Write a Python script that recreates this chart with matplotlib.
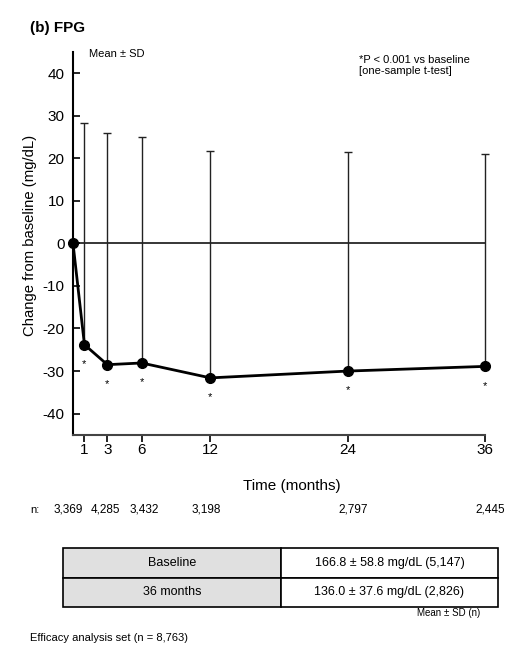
import matplotlib.pyplot as plt
import numpy as np

plt.rcParams['font.family'] = ['Liberation Sans', 'DejaVu Sans']
plt.rcParams['axes.unicode_minus'] = False

# Dati
months = [0, 1, 3, 6, 12, 24, 36]
mean_change = [0, -23.8, -28.5, -28.1, -31.6, -30.0, -28.9]
sd_change = [0, 52.0, 54.5, 53.1, 53.2, 51.5, 49.9]
n_labels = ['3,369', '4,285', '3,432', '3,198', '2,797', '2,445']
table_rows = [['Baseline', '166.8 ± 58.8 mg/dL (5,147)'],
              ['36 months', '136.0 ± 37.6 mg/dL (2,826)']]

fig = plt.figure(figsize=(5.29, 6.64), dpi=100)
ax = fig.add_axes([0.138, 0.345, 0.779, 0.577])

x = np.array(months)
y = np.array(mean_change)
sd = np.array(sd_change)

# Linea dello zero
ax.plot([0, 36], [0, 0], color='black', lw=1.1, zorder=1, clip_on=False)

# Barre di errore solo verso l'alto
eb = ax.errorbar(x[1:], y[1:], yerr=[np.zeros(len(x) - 1), sd[1:]], fmt='none',
                 ecolor='#222222', elinewidth=1.0, capsize=3, capthick=1.0, zorder=2)
for art in eb.lines[1] + eb.lines[2]:
    art.set_clip_on(False)

# Media
ax.plot(x, y, color='black', lw=2, marker='o', markersize=7, zorder=3, clip_on=False)

# Asterischi
for xi, yi in zip(x[1:], y[1:]):
    ax.annotate('*', (xi, yi), xytext=(0, -14), textcoords='offset points',
                ha='center', va='center', fontsize=8)

ax.set_xlim(0, 36)
ax.set_ylim(-45, 45)
ax.set_xticks(months[1:])
ax.set_yticks([-40, -30, -20, -10, 0, 10, 20, 30, 40])
ax.tick_params(axis='y', direction='in', length=5, width=1.2, labelsize=11, pad=6)
ax.tick_params(axis='x', direction='out', length=5, width=1.2, labelsize=11, pad=1)
for s in ['top', 'right']:
    ax.spines[s].set_visible(False)
ax.spines['left'].set_linewidth(1.5)
ax.spines['bottom'].set_linewidth(1.5)
ax.spines['bottom'].set_color('#444444')

ax.set_ylabel('Change from baseline (mg/dL)', fontsize=10.7)
ax.yaxis.set_label_coords(-0.088, 0.52)
ax.set_xlabel('Time (months)', fontsize=11)
ax.xaxis.set_label_coords(0.53, -0.115)

ax.text(0.04, 0.995, 'Mean ± SD', transform=ax.transAxes, fontsize=8, va='center')
ax.text(0.693, 0.992, '*P < 0.001 vs baseline\n[one-sample t-test]', transform=ax.transAxes,
        fontsize=8, va='top', linespacing=1.2)

fig.text(0.057, 0.958, '(b) FPG', fontsize=11, fontweight='bold', va='center')

# Riga n
fig.text(0.057, 1 - 510 / 664, 'n:', fontsize=8, va='center')
n_offsets = [-16, -2, 3, -4, 5, 5]
for xi, lab, off in zip(months[1:], n_labels, n_offsets):
    ax.annotate(lab, (xi, 1 - 510 / 664), xycoords=('data', 'figure fraction'),
                xytext=(off, 0), textcoords='offset pixels',
                ha='center', va='center', fontsize=8.5, annotation_clip=False)

# Tabella
tax = fig.add_axes([63 / 529, 1 - 607 / 664, (498 - 63) / 529, (607 - 548) / 664])
tax.axis('off')
tab = tax.table(cellText=table_rows, bbox=[0, 0, 1, 1], cellLoc='center',
                colWidths=[(281 - 63) / 435, (498 - 281) / 435])
tab.auto_set_font_size(False)
for (r, c), cell in tab.get_celld().items():
    cell.set_fontsize(9)
    cell.set_linewidth(1.2)
    if c == 0:
        cell.set_facecolor('#e0e0e0')

fig.text(480 / 529, 1 - 613 / 664, 'Mean ± SD (n)', fontsize=7, ha='right', va='center')
fig.text(0.057, 1 - 638 / 664, 'Efficacy analysis set (n = 8,763)', fontsize=8, va='center')

plt.savefig('out.png', dpi=100)
